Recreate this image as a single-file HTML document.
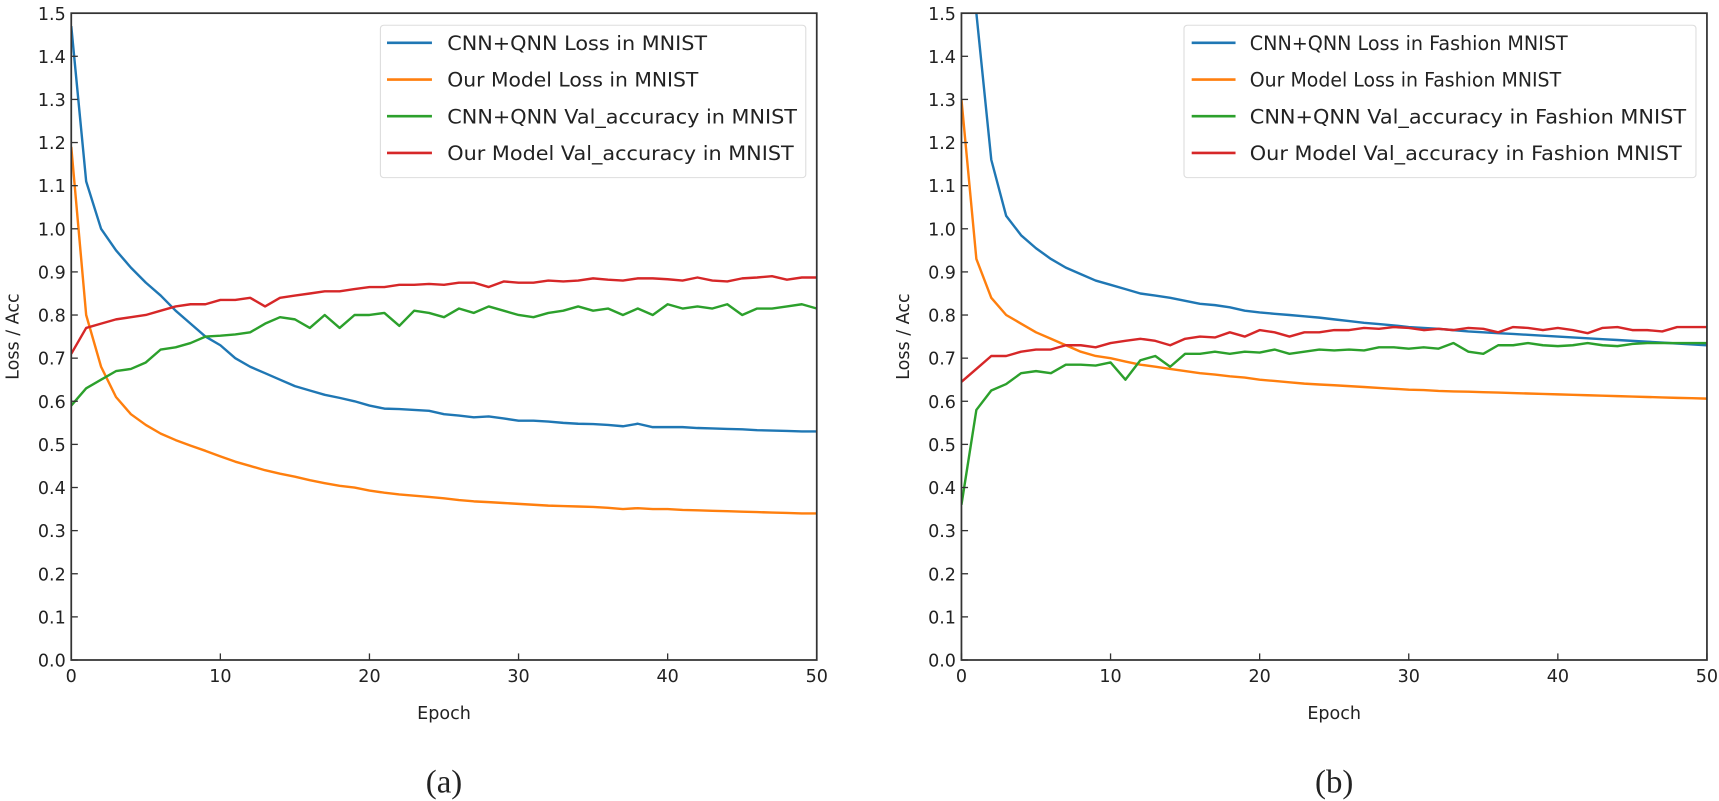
<!DOCTYPE html>
<html><head><meta charset="utf-8"><style>
html,body{margin:0;padding:0;background:#fff;width:1719px;height:801px;overflow:hidden}
svg{display:block}
text{font-family:"DejaVu Sans","Liberation Sans",sans-serif;fill:#222}
</style></head><body>
<svg id="s" width="1719" height="801" viewBox="0 0 1568 730.6" xmlns="http://www.w3.org/2000/svg">
<defs>
<clipPath id="ca"><rect x="65" y="12" width="680" height="590"/></clipPath>
<clipPath id="cb"><rect x="877" y="12" width="680" height="590"/></clipPath>
</defs>
<g id="g"></g>
<text x="405" y="723" style="font-family:'Liberation Serif',serif" font-size="30" text-anchor="middle">(a)</text>
<text x="1217" y="723" style="font-family:'Liberation Serif',serif" font-size="30" text-anchor="middle">(b)</text>
</svg>
<script>
var g=document.getElementById('g'),h='';
function Y(v){return 602-v*393.33;}
var A={
b:[1.47,1.11,1.0,0.95,0.91,0.875,0.845,0.81,0.78,0.75,0.73,0.70,0.68,0.665,0.65,0.635,0.625,0.615,0.608,0.6,0.59,0.583,0.582,0.58,0.578,0.57,0.567,0.563,0.565,0.56,0.555,0.555,0.553,0.55,0.548,0.547,0.545,0.542,0.548,0.54,0.54,0.54,0.538,0.537,0.536,0.535,0.533,0.532,0.531,0.53,0.53],
o:[1.19,0.8,0.68,0.61,0.57,0.545,0.525,0.51,0.497,0.485,0.472,0.46,0.45,0.44,0.432,0.425,0.417,0.41,0.404,0.4,0.393,0.388,0.384,0.381,0.378,0.375,0.371,0.368,0.366,0.364,0.362,0.36,0.358,0.357,0.356,0.355,0.353,0.35,0.352,0.35,0.35,0.348,0.347,0.346,0.345,0.344,0.343,0.342,0.341,0.34,0.34],
gr:[0.59,0.63,0.65,0.67,0.675,0.69,0.72,0.725,0.735,0.75,0.752,0.755,0.76,0.78,0.795,0.79,0.77,0.8,0.77,0.8,0.8,0.805,0.775,0.81,0.805,0.795,0.815,0.805,0.82,0.81,0.8,0.795,0.805,0.81,0.82,0.81,0.815,0.8,0.815,0.8,0.825,0.815,0.82,0.815,0.825,0.8,0.815,0.815,0.82,0.825,0.815],
r:[0.71,0.77,0.78,0.79,0.795,0.8,0.81,0.82,0.825,0.825,0.835,0.835,0.84,0.82,0.84,0.845,0.85,0.855,0.855,0.86,0.865,0.865,0.87,0.87,0.872,0.87,0.875,0.875,0.865,0.878,0.875,0.875,0.88,0.878,0.88,0.885,0.882,0.88,0.885,0.885,0.883,0.88,0.887,0.88,0.878,0.885,0.887,0.89,0.882,0.887,0.887]};
var B={
b:[1.85,1.5,1.16,1.03,0.985,0.955,0.93,0.91,0.895,0.88,0.87,0.86,0.85,0.845,0.84,0.833,0.826,0.823,0.818,0.81,0.806,0.803,0.8,0.797,0.794,0.79,0.786,0.782,0.779,0.776,0.772,0.77,0.768,0.765,0.762,0.76,0.758,0.756,0.754,0.752,0.75,0.748,0.746,0.744,0.742,0.74,0.738,0.736,0.734,0.732,0.73],
o:[1.3,0.93,0.84,0.8,0.78,0.76,0.745,0.73,0.715,0.705,0.7,0.692,0.685,0.68,0.675,0.67,0.665,0.662,0.658,0.655,0.65,0.647,0.644,0.641,0.639,0.637,0.635,0.633,0.631,0.629,0.627,0.626,0.624,0.623,0.622,0.621,0.62,0.619,0.618,0.617,0.616,0.615,0.614,0.613,0.612,0.611,0.61,0.609,0.608,0.607,0.606],
gr:[0.36,0.58,0.625,0.64,0.665,0.67,0.665,0.685,0.685,0.683,0.69,0.65,0.695,0.705,0.68,0.71,0.71,0.715,0.71,0.715,0.713,0.72,0.71,0.715,0.72,0.718,0.72,0.718,0.725,0.725,0.722,0.725,0.722,0.735,0.715,0.71,0.73,0.73,0.735,0.73,0.728,0.73,0.735,0.73,0.728,0.733,0.735,0.735,0.735,0.735,0.735],
r:[0.645,0.675,0.705,0.705,0.715,0.72,0.72,0.73,0.73,0.725,0.735,0.74,0.745,0.74,0.73,0.745,0.75,0.748,0.76,0.75,0.765,0.76,0.75,0.76,0.76,0.765,0.765,0.77,0.768,0.772,0.77,0.765,0.768,0.765,0.77,0.768,0.76,0.772,0.77,0.765,0.77,0.765,0.758,0.77,0.772,0.765,0.765,0.762,0.772,0.772,0.772]};
var col={b:'#1f77b4',o:'#ff7f0e',gr:'#2ca02c',r:'#d62728'};
function panel(x0,D,clip){
  var sx=13.6;
  h+='<g clip-path="url(#'+clip+')">';
  ['b','o','gr','r'].forEach(function(k){
    var p=D[k].map(function(v,i){return (x0+i*sx).toFixed(1)+','+Y(v).toFixed(1)}).join(' ');
    h+='<polyline points="'+p+'" fill="none" stroke="'+col[k]+'" stroke-width="2.2" stroke-linejoin="round"/>';
  });
  h+='</g>';
  h+='<rect x="'+x0+'" y="12" width="680" height="590" fill="none" stroke="#333" stroke-width="1.6"/>';
  for(var i=0;i<=15;i++){var y=Y(i/10);
    h+='<line x1="'+x0+'" x2="'+(x0+6)+'" y1="'+y+'" y2="'+y+'" stroke="#333" stroke-width="1.2"/>';
    h+='<text x="'+(x0-5)+'" y="'+(y+6)+'" font-size="16" text-anchor="end">'+(i/10).toFixed(1)+'</text>';}
  for(var j=0;j<=5;j++){var x=x0+j*136;
    h+='<line x1="'+x+'" x2="'+x+'" y1="602" y2="596" stroke="#333" stroke-width="1.2"/>';
    h+='<text x="'+x+'" y="622" font-size="16" text-anchor="middle">'+(j*10)+'</text>';}
  h+='<text x="'+(x0+340)+'" y="656" font-size="16" text-anchor="middle">Epoch</text>';
  h+='<text transform="translate('+(x0-48)+',307) rotate(-90)" font-size="16" text-anchor="middle">Loss / Acc</text>';
}
panel(65,A,'ca');panel(877,B,'cb');
function legend(x,w,lx1,lx2,tx,lens,names){
  h+='<rect x="'+x+'" y="23" width="'+w+'" height="139" rx="3" fill="#fff" fill-opacity="0.85" stroke="#ddd" stroke-width="1"/>';
  ['b','o','gr','r'].forEach(function(k,i){var yy=39+i*33.5;
    h+='<line x1="'+lx1+'" x2="'+lx2+'" y1="'+yy+'" y2="'+yy+'" stroke="'+col[k]+'" stroke-width="2.4"/>';
    h+='<text x="'+tx+'" y="'+(yy+6.5)+'" font-size="18" textLength="'+lens[i]+'" lengthAdjust="spacingAndGlyphs">'+names[i]+'</text>';});
}
legend(347,388,353,394,408,[237,229,319,316],['CNN+QNN Loss in MNIST','Our Model Loss in MNIST','CNN+QNN Val_accuracy in MNIST','Our Model Val_accuracy in MNIST']);
legend(1080,467,1087,1127,1140,[290,284,398,394],['CNN+QNN Loss in Fashion MNIST','Our Model Loss in Fashion MNIST','CNN+QNN Val_accuracy in Fashion MNIST','Our Model Val_accuracy in Fashion MNIST']);
g.innerHTML=h;
</script>
</body></html>
